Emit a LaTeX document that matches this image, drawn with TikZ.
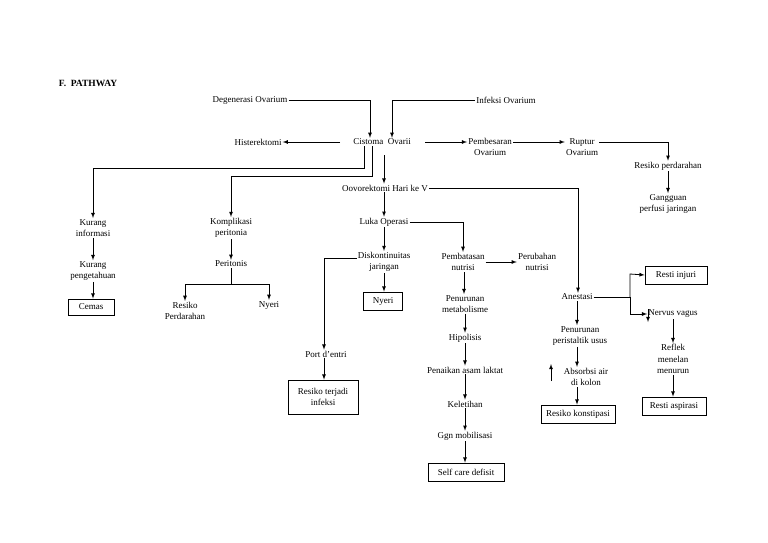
\documentclass[tikz,border=0pt]{standalone}
\usepackage{fontspec}
\setmainfont{Liberation Serif}
\begin{document}
\begin{tikzpicture}[x=1pt,y=-1pt,
  t/.style={inner sep=1pt,align=center,font=\fontsize{9}{11.5}\selectfont},
  bx/.style={t,draw,line width=0.8pt},
  ar/.style={-latex,line width=0.8pt},
  ln/.style={line width=0.8pt}]
\useasboundingbox (0,0) rectangle (768,543);
\node[t,font=\bfseries\fontsize{9.5}{11}\selectfont] (title) at (88,83) {F.\ \ PATHWAY};
\node[t] (deg) at (250,100) {Degenerasi Ovarium};
\node[t] (inf) at (506,100) {Infeksi Ovarium};
\node[t] (cis) at (382,142) {Cistoma\ \ Ovarii};
\node[t] (his) at (258,142) {Histerektomi};
\node[t] (pem) at (490,147) {Pembesaran\\Ovarium};
\node[t] (rup) at (582,147) {Ruptur\\Ovarium};
\node[t] (rp) at (668,166) {Resiko perdarahan};
\node[t] (gp) at (668,204) {Gangguan\\perfusi jaringan};
\node[t] (ki) at (93,228) {Kurang\\informasi};
\node[t] (kp) at (93,271) {Kurang\\pengetahuan};
\node[bx,minimum width=46pt,minimum height=16pt] (cem) at (91,307) {Cemas};
\node[t] (kom) at (231,228) {Komplikasi\\peritonia};
\node[t] (per) at (231,264) {Peritonis};
\node[t] (rpd) at (185,311) {Resiko\\Perdarahan};
\node[t] (ny1) at (269,305) {Nyeri};
\node[t] (oov) at (385,188) {Oovorektomi Hari ke V};
\node[t] (luka) at (384,222) {Luka Operasi};
\node[t] (dis) at (384,262) {Diskontinuitas\\jaringan};
\node[bx,minimum width=39pt,minimum height=18pt] (ny2) at (383,301) {Nyeri};
\node[t] (port) at (326,354) {Port d'entri};
\node[bx,minimum width=70pt,minimum height=34pt] (rti) at (323,397) {Resiko terjadi\\infeksi};
\node[t] (pbn) at (463,262) {Pembatasan\\nutrisi};
\node[t] (pun) at (537,262) {Perubahan\\nutrisi};
\node[t] (pme) at (465,304) {Penurunan\\metabolisme};
\node[t] (hip) at (465,338) {Hipolisis};
\node[t] (pas) at (465,370) {Penaikan asam laktat};
\node[t] (kel) at (465,404) {Keletihan};
\node[t] (ggn) at (465,436) {Ggn mobilisasi};
\node[bx,minimum width=76pt,minimum height=18pt] (scd) at (466,472) {Self care defisit};
\node[t] (ane) at (577,297) {Anestasi};
\node[t] (pps) at (580,336) {Penurunan\\peristaltik usus};
\node[t] (abs) at (586,377) {Absorbsi air\\di kolon};
\node[bx,minimum width=74pt,minimum height=18pt] (rko) at (578,414) {Resiko konstipasi};
\node[bx,minimum width=62pt,minimum height=18pt] (rin) at (676,275) {Resti injuri};
\node[t] (nv) at (673,314) {Nervus vagus};
\node[t] (ref) at (673,359) {Reflek\\menelan\\menurun};
\node[bx,minimum width=64pt,minimum height=18pt] (ras) at (674,406) {Resti aspirasi};

\draw[ar] (deg.east) -- (370,100) -- (370,0 |- cis.north);
\draw[ar] (inf.west) -- (392,100) -- (392,0 |- cis.north);
\draw[ar] (340,142) -- (his.east);
\draw[ar] (425,142) -- (pem.west |- 0,142);
\draw[ar] (pem.east |- 0,142) -- (rup.west |- 0,142);
\draw[ar] (rup.east |- 0,142) -- (668,142) -- (rp.north);
\draw[ar] (rp.south) -- (gp.north);
\draw[ar] (364,0 |- cis.south) -- (364,168) -- (93,168) -- (ki.north);
\draw[ar] (ki.south) -- (ki.south |- kp.north);
\draw[ar] (kp.south) -- (kp.south |- cem.north);
\draw[ar] (372,0 |- cis.south) -- (372,176) -- (231,176) -- (kom.north);
\draw[ar] (kom.south) -- (kom.south |- per.north);
\draw[ln] (per.south) -- (231,284);
\draw[ar] (185,284) -- (rpd.north);
\draw[ar] (185,284) -- (269,284) -- (ny1.north);
\draw[ar] (384,155) -- (384,0 |- oov.north);
\draw[ar] (oov.east) -- (578,188) -- (578,0 |- ane.north);
\draw[ar] (384,0 |- oov.south) -- (384,0 |- luka.north);
\draw[ar] (luka.east) -- (463,222) -- (pbn.north);
\draw[ar] (384,0 |- luka.south) -- (384,0 |- dis.north);
\draw[ar] (384,0 |- dis.south) -- (384,0 |- ny2.north);
\draw[ar] (dis.west |- 0,258) -- (324,258) -- (324,0 |- port.north);
\draw[ar] (324,0 |- port.south) -- (324,0 |- rti.north);
\draw[ar] (pbn.east) -- (pun.west);
\draw[ar] (464,0 |- pbn.south) -- (464,0 |- pme.north);
\draw[ar] (465,0 |- pme.south) -- (465,0 |- hip.north);
\draw[ar] (465,0 |- hip.south) -- (465,0 |- pas.north);
\draw[ar] (465,0 |- pas.south) -- (465,0 |- kel.north);
\draw[ar] (465,0 |- kel.south) -- (465,0 |- ggn.north);
\draw[ar] (465,0 |- ggn.south) -- (465,0 |- scd.north);
\draw[ar] (577,0 |- ane.south) -- (577,0 |- pps.north);
\draw[ar] (577,0 |- pps.south) -- (577,0 |- abs.north);
\draw[ar] (577,0 |- abs.south) -- (577,0 |- rko.north);
\coordinate (up1) at (551,381);
\draw[ar] (up1) -- (551,364);
\draw[ln] (ane.east) -- (630,297);
\draw[ar] (630,297) -- (630,274) -- (rin.west);
\draw[ar] (630,297) -- (630,314) -- (nv.west);
\coordinate (dn1) at (648,309);
\draw[ar] (dn1) -- (648,322);
\draw[ar] (673,0 |- nv.south) -- (673,0 |- ref.north);
\draw[ar] (673,0 |- ref.south) -- (673,0 |- ras.north);
\end{tikzpicture}
\end{document}
